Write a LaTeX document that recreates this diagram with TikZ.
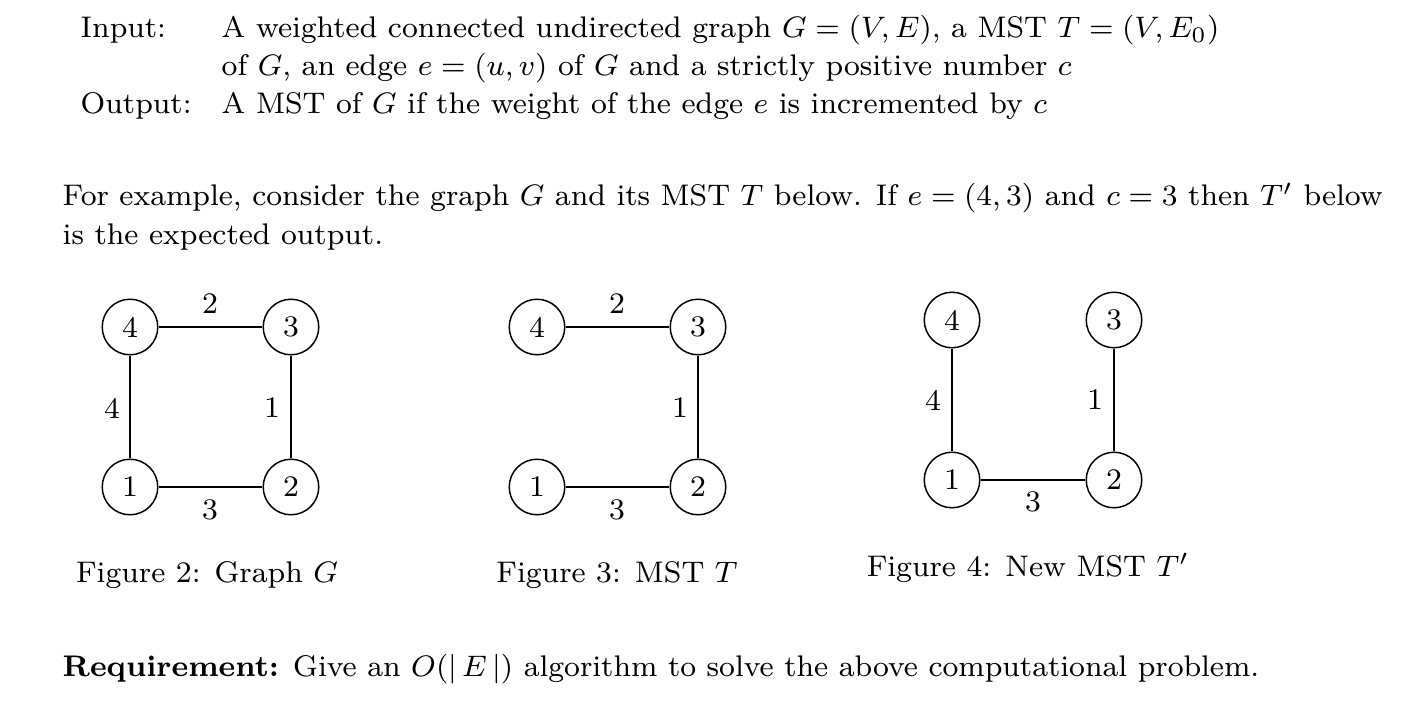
\documentclass[tikz,border=0pt]{standalone}
\begin{document}
\begin{tikzpicture}[x=0.27pt,y=-0.27pt,
  txt/.style={anchor=base west,inner sep=0pt,font=\fontsize{8.05}{10}\selectfont},
  vx/.style={circle,draw,line width=0.4pt,minimum size=15pt,inner sep=0pt,font=\fontsize{8.05}{10}\selectfont},
  lb/.style={inner sep=0pt,font=\fontsize{8.05}{10}\selectfont},
  ed/.style={line width=0.4pt}]
\useasboundingbox (0,0) rectangle (1404,706);
\node[txt] (i1) at (80,38) {Input:};
\node[txt] (t1) at (221,38) {A weighted connected undirected graph $G=(V,E)$, a MST $T=(V,E_0)$};
\node[txt] (t2) at (221,76) {of $G$, an edge $e=(u,v)$ of $G$ and a strictly positive number $c$};
\node[txt] (o1) at (80,114) {Output:};
\node[txt] (t3) at (221,114) {A MST of $G$ if the weight of the edge $e$ is incremented by $c$};
\node[txt] (p1) at (62,206) {For example, consider the graph $G$ and its MST $T$ below. If $e=(4,3)$ and $c=3$ then $T'$ below};
\node[txt] (p2) at (62,244) {is the expected output.};
\node[txt] (rq) at (62,676) {\textbf{Requirement:} Give an $O(|\,E\,|)$ algorithm to solve the above computational problem.};
% Fig 2
\node[vx] (a4) at (130,327) {4}; \node[vx] (a3) at (291,327) {3};
\node[vx] (a1) at (130,487) {1}; \node[vx] (a2) at (291,487) {2};
\draw[ed] (a4)--(a3) (a3)--(a2) (a1)--(a2) (a4)--(a1);
\node[lb] at (210,304) {2}; \node[lb] at (112,408) {4};
\node[lb] at (272,408) {1}; \node[lb] at (210,510) {3};
\node[lb] (c2) at (207,575) {Figure 2: Graph $G$};
% Fig 3
\node[vx] (b4) at (537,327) {4}; \node[vx] (b3) at (698,327) {3};
\node[vx] (b1) at (537,487) {1}; \node[vx] (b2) at (698,487) {2};
\draw[ed] (b4)--(b3) (b3)--(b2) (b1)--(b2);
\node[lb] at (617,304) {2}; \node[lb] at (680,408) {1}; \node[lb] at (617,510) {3};
\node[lb] (c3) at (617,575) {Figure 3: MST $T$};
% Fig 4
\node[vx] (d4) at (952,320) {4}; \node[vx] (d3) at (1114,320) {3};
\node[vx] (d1) at (952,480) {1}; \node[vx] (d2) at (1114,480) {2};
\draw[ed] (d4)--(d1) (d3)--(d2) (d1)--(d2);
\node[lb] at (933,400) {4}; \node[lb] at (1095,400) {1}; \node[lb] at (1033,502) {3};
\node[lb] (c4) at (1028,568) {Figure 4: New MST $T'$};
\end{tikzpicture}
\end{document}
